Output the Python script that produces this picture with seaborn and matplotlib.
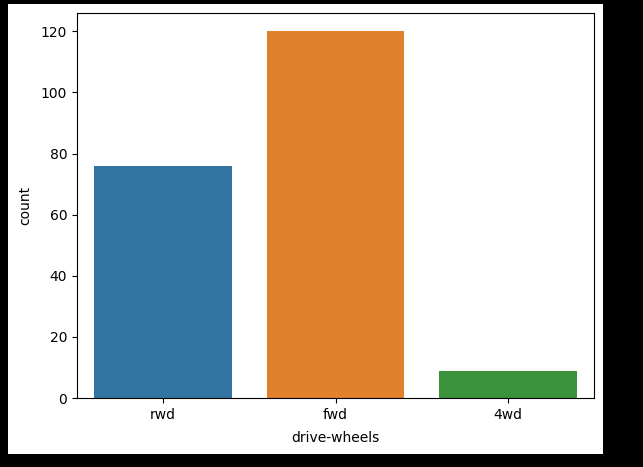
import matplotlib
matplotlib.use("Agg")
import matplotlib.pyplot as plt
import seaborn as sns

# counts per drive-wheels category
categories = ["rwd", "fwd", "4wd"]
counts = [76, 120, 9]
colors = ["#3274a1", "#e1812c", "#3a923a"]

W, H = 643, 467
fig = plt.figure(figsize=(W / 100, H / 100), dpi=100, facecolor="black")

# white figure area inside the black frame of the screenshot
fig.patches.append(plt.Rectangle((8 / W, 1 - 454 / H), 595 / W, 450 / H,
                                 transform=fig.transFigure, facecolor="white",
                                 edgecolor="none", zorder=-10))

ax = fig.add_axes([77 / W, 1 - 398 / H, 517 / W, 385 / H])
sns.barplot(x=categories, y=counts, hue=categories, palette=colors,
            saturation=1, legend=False, ax=ax)
ax.set_xlabel("drive-wheels", labelpad=6.5)
ax.set_ylabel("count", labelpad=6.5)

fig.savefig("out.png", dpi=100, facecolor="black")
